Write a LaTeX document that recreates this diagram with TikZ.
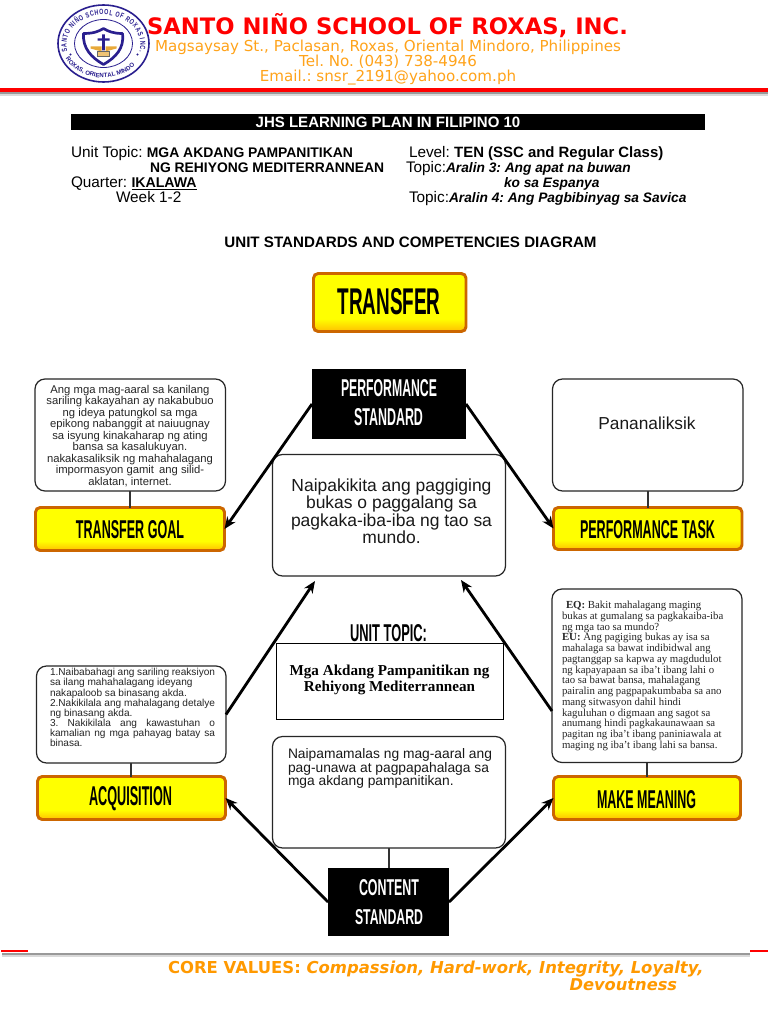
\documentclass[tikz,border=0pt]{standalone}
\usepackage{fontspec}
\usepackage{graphicx}
\setmainfont{Liberation Sans}
\newfontfamily\dvfont{DejaVu Sans}
\newfontfamily\serfont{Liberation Serif}
\newfontfamily\logofont[FakeStretch=0.72]{Liberation Sans}
\usetikzlibrary{arrows.meta,decorations.text,shadows}
\definecolor{ygold}{HTML}{FFC000}
\definecolor{orborder}{HTML}{CC6600}
\definecolor{hdorange}{HTML}{FFA31A}
\definecolor{coreorange}{HTML}{FF9900}
\definecolor{navy}{HTML}{2A1F8F}
\definecolor{gold}{HTML}{E8A93A}
\pgfdeclareverticalshading{ybar}{100bp}{color(0bp)=(ygold);color(25bp)=(ygold);color(36bp)=(yellow);color(100bp)=(yellow)}
\newcommand{\rb}[3]{\resizebox{\dimexpr #1pt*3/4\relax}{\dimexpr #2pt*3/4\relax}{\bfseries #3}}
\frenchspacing
\tikzset{
  abox/.style={inner sep=0pt,outer sep=0pt},
  whitebox/.style={abox,draw=black!85,line width=0.9pt,rounded corners=7.5pt,fill=white},
  yellowbox/.style={abox,draw=orborder,line width=2.2pt,rounded corners=3.5pt,shading=ybar},
  blackbox/.style={abox,fill=black},
  plainbox/.style={abox,draw=black,line width=0.7pt,fill=white},
  txt/.style={inner sep=0pt,outer sep=0pt},
  link/.style={draw=black!80,line width=1.3pt},
  bigarrow/.style={draw=black,line width=2.1pt,-{Stealth[length=9pt,width=7.5pt]}},
  redline/.style={draw=red,line width=3pt},
  shadowdark/.style={draw=black!40,line width=1.5pt},
  shadowlight/.style={draw=black!15,line width=1.5pt},
}
\newcommand{\bx}[7]{\node[#1,minimum width={(#5-#3)*0.75pt},minimum height={(#6-#4)*0.75pt}] (#2) at ({(#3+#5)/2},{(#4+#6)/2}) {#7};}
\begin{document}
\begin{tikzpicture}[x=0.75pt,y=-0.75pt]
\useasboundingbox (0,0) rectangle (768,1024);
\fill[white] (0,0) rectangle (768,1024);

% header rules
\draw[shadowlight] (0,95.5) -- (768,95.5);
\draw[shadowdark] (0,93) -- (768,93);
\draw[redline] (0,90) -- (768,90);

% logo
\begin{scope}[shift={(103.5,43.5)},x=0.75pt,y=0.75pt]
  \fill[white] (0,0) ellipse [x radius=46,y radius=39];
  \draw[navy,line width=1.2pt] (0,0) ellipse [x radius=45.5,y radius=38.5];
  \draw[navy,line width=0.6pt] (0,0) ellipse [x radius=29,y radius=24];
  \path[postaction={decorate,decoration={text along path,text align={fit to path},
     text={|\logofont\fontsize{5.6}{6}\selectfont\bfseries\color{navy}|SANTO NIÑO SCHOOL OF ROXAS INC.}}}]
     (-36,-8) arc [start angle=193,end angle=-13,x radius=36.9,y radius=30];
  \path[postaction={decorate,decoration={text along path,text align=center,
     text={|\fontsize{4.6}{5}\selectfont\bfseries\color{navy}|ROXAS, ORIENTAL MINDORO}}}]
     (-33,-21) arc [start angle=218,end angle=322,x radius=41.5,y radius=34];
  \fill[navy] (-33,-11) circle (1.2) (34,-11) circle (1.2);
  % shield
  \draw[navy,line width=2pt,fill=white,line join=round] (-20,10) .. controls (-10,10) and (-5,12) .. (0,15) .. controls (5,12) and (10,10) .. (19,10) .. controls (21,-5) and (12,-14) .. (0,-21) .. controls (-12,-14) and (-21,-5) .. (-20,10) -- cycle;
  \fill[gold] (-13,-3) -- (-2,-3) -- (-2,-8) -- (-13,-5) -- cycle;
  \fill[gold] (13,-3) -- (2,-3) -- (2,-8) -- (13,-5) -- cycle;
  \fill[navy] (-1.3,9) rectangle (1.3,-7) (-6,5) rectangle (6,2.8);
  \draw[black!60,fill=gold!70!white,line width=0.5pt] (-6,-8) rectangle (6,-13);
\end{scope}

% header text
\node[txt,text=red] (title) at (387.5,25.5) {\dvfont\bfseries\fontsize{17}{20}\selectfont SANTO NIÑO SCHOOL OF ROXAS, INC.};
\node[txt,text=hdorange] (addr) at (388,47) {\dvfont\fontsize{11.33}{13}\selectfont Magsaysay St., Paclasan, Roxas, Oriental Mindoro, Philippines};
\node[txt,text=hdorange] (tel) at (388,62) {\dvfont\fontsize{11.33}{13}\selectfont Tel. No. (043) 738-4946};
\node[txt,text=hdorange] (mail) at (388,78) {\dvfont\fontsize{11.33}{13}\selectfont Email.: snsr\_2191@yahoo.com.ph};

\bx{blackbox}{bar}{71}{114}{705}{130}{}
\node[txt,text=white] (bartext) at (388,122) {\bfseries\fontsize{11.27}{12}\selectfont JHS LEARNING PLAN IN FILIPINO 10};

\node[txt,anchor=base west] (ut) at (71,157) {\fontsize{11.5}{12}\selectfont Unit Topic: \bfseries\fontsize{10.45}{12}\selectfont MGA AKDANG PAMPANITIKAN};
\node[txt,anchor=base west] (ng) at (150,172.5) {\bfseries\fontsize{10.4}{12}\selectfont NG REHIYONG MEDITERRANNEAN};
\node[txt,anchor=base west] (qu) at (71,187.5) {\fontsize{11.5}{12}\selectfont Quarter: \bfseries\fontsize{10.6}{12}\selectfont\underline{IKALAWA}};
\node[txt,anchor=base west] (wk) at (116,202.5) {\fontsize{11.5}{12}\selectfont Week 1-2};
\node[txt,anchor=base west] (lv) at (409,157) {\fontsize{11.5}{12}\selectfont Level: \bfseries\fontsize{11.2}{12}\selectfont TEN (SSC and Regular Class)};
\node[txt,anchor=base west] (t3) at (406,172.5) {\fontsize{11.5}{12}\selectfont Topic:\bfseries\itshape\fontsize{10.3}{12}\selectfont Aralin 3: Ang apat na buwan};
\node[txt,anchor=base west] (ko) at (504,187.5) {\bfseries\itshape\fontsize{10.3}{12}\selectfont ko sa Espanya};
\node[txt,anchor=base west] (t4) at (409,202.5) {\fontsize{11.5}{12}\selectfont Topic:\bfseries\itshape\fontsize{10.3}{12}\selectfont Aralin 4: Ang Pagbibinyag sa Savica};
\node[txt] (usc) at (410.5,242.5) {\bfseries\fontsize{11.35}{13}\selectfont UNIT STANDARDS AND COMPETENCIES DIAGRAM};

% boxes
\bx{yellowbox}{transfer}{313.5}{273.5}{466}{331.5}{}
\bx{blackbox}{ps}{312}{369}{466}{439}{}
\bx{whitebox}{central}{272.5}{454.5}{505.5}{576}{}
\bx{whitebox}{lw}{35}{379}{225.5}{491}{}
\bx{yellowbox}{goal}{35.5}{507.5}{224.5}{550.5}{}
\bx{whitebox}{rw}{552.5}{379}{743}{491}{}
\bx{yellowbox}{task}{553.5}{507.5}{742}{549.5}{}
\bx{whitebox}{aw}{36.5}{666}{226}{763}{}
\bx{yellowbox}{acq}{37.5}{776.5}{225.5}{819.5}{}
\bx{whitebox}{mw}{552}{589}{742}{762.5}{}
\bx{yellowbox}{mm}{553.5}{776.5}{740.5}{819.5}{}
\bx{plainbox}{ub}{276}{643}{503}{719.5}{}
\bx{whitebox}{lc}{272.5}{736.5}{505.5}{848}{}
\bx{blackbox}{cs}{328}{868}{449}{936}{}

% connectors
\draw[link] (lw.south) -- (lw.south |- goal.north);
\draw[link] (rw.south) -- (rw.south |- task.north);
\draw[link] (aw.south) -- (aw.south |- acq.north);
\draw[link] (mw.south) -- (mw.south |- mm.north);
\draw[link] (lc.south) -- (lc.south |- cs.north);
\coordinate (cl) at (315,581);
\coordinate (cr) at (461,580);
\coordinate (mwa) at (552,711);
\draw[bigarrow] (ps.west) -- (goal.east);
\draw[bigarrow] (ps.east) -- (task.west);
\draw[bigarrow] (aw.east) -- (cl);
\draw[bigarrow] (mwa) -- (cr);
\draw[bigarrow] (cs.west) -- (acq.east);
\draw[bigarrow] (cs.east) -- (mm.west);

% box labels
\node[txt] (l1) at (389,302) {\rb{103}{26}{TRANSFER}};
\node[txt,text=white] (l2) at (389,388.5) {\rb{96}{17}{PERFORMANCE}};
\node[txt,text=white] (l3) at (388.5,417.5) {\rb{69}{17}{STANDARD}};
\node[txt] (l4) at (130,530) {\rb{108}{18}{TRANSFER GOAL}};
\node[txt] (l5) at (647.5,530) {\rb{135}{18}{PERFORMANCE TASK}};
\node[txt] (l6) at (130.5,799) {\rb{83}{19}{ACQUISITION}};
\node[txt] (l7) at (646.5,799.5) {\rb{99}{18}{MAKE MEANING}};
\node[txt] (l8) at (388.5,633.5) {\rb{77}{17}{UNIT TOPIC:}};
\node[txt,text=white] (l9) at (389,888) {\rb{60}{16}{CONTENT}};
\node[txt,text=white] (l10) at (389,917.5) {\rb{68}{15}{STANDARD}};

% box texts
\node[txt,anchor=north,align=center,font={\fontsize{8.45}{8.63}\selectfont},text=black!85] (ltext) at (130,385)
 {Ang mga mag-aaral sa kanilang\\sariling kakayahan ay nakabubuo\\ng ideya patungkol sa mga\\epikong nabanggit at naiuugnay\\sa isyung kinakaharap ng ating\\bansa sa kasalukuyan.\\nakakasaliksik ng mahahalagang\\impormasyon gamit\, ang silid-\\aklatan, internet.};
\node[txt,text=black!90] (rtext) at (647,423) {\fontsize{13}{15}\selectfont Pananaliksik};
\node[txt,anchor=north,align=center,font={\fontsize{13.1}{13.2}\selectfont},text=black!90] (ctext) at (391.5,478.5)
 {Naipakikita ang paggiging\\bukas o paggalang sa\\pagkaka-iba-iba ng tao sa\\mundo.};
\node[txt,anchor=north west,align=left,font={\fontsize{7.57}{7.6}\selectfont},text=black!85] (atext) at (50,668.5)
 {\makebox[123.8pt][s]{1.Naibabahagi ang sariling reaksiyon}\\sa ilang mahahalagang ideyang\\nakapaloob sa binasang akda.\\\makebox[123.8pt][s]{2.Nakikilala ang mahalagang detalye}\\ng binasang akda.\\\makebox[123.8pt][s]{3. Nakikilala ang kawastuhan o}\\\makebox[123.8pt][s]{kamalian ng mga pahayag batay sa}\\binasa.};
\node[txt,anchor=north,align=center,font={\serfont\bfseries\fontsize{11.35}{12}\selectfont}] (utext) at (389.5,664.5)
 {Mga Akdang Pampanitikan ng\\Rehiyong Mediterrannean};
\node[txt,anchor=north west,align=left,font={\fontsize{10.35}{10.3}\selectfont},text=black!90] (ctext2) at (288,748.5)
 {Naipamamalas ng mag-aaral ang\\pag-unawa at pagpapahalaga sa\\mga akdang pampanitikan.};
\node[txt,anchor=north west,align=left,font={\serfont\fontsize{8.1}{8.07}\selectfont},text=black!85] (mtext) at (562,601)
 {\hspace*{3pt}\textbf{EQ:} Bakit mahalagang maging\\bukas at gumalang sa pagkakaiba-iba\\ng mga tao sa mundo?\\\textbf{EU:} Ang pagiging bukas ay isa sa\\mahalaga sa bawat indibidwal ang\\pagtanggap sa kapwa ay magdudulot\\ng kapayapaan sa iba’t ibang lahi o\\tao sa bawat bansa, mahalagang\\pairalin ang pagpapakumbaba sa ano\\mang sitwasyon dahil hindi\\kaguluhan o digmaan ang sagot sa\\anumang hindi pagkakaunawaan sa\\pagitan ng iba’t ibang paniniawala at\\maging ng iba’t ibang lahi sa bansa.};

% footer
\draw[shadowlight] (2,955.5) -- (750,955.5);
\draw[shadowdark] (2,954) -- (750,954);
\draw[redline,line width=2.2pt] (1,951) -- (28,951);
\draw[redline,line width=2.2pt] (750,951) -- (768,951);
\node[txt,anchor=base west,text=coreorange] (core) at (168,973) {\dvfont\bfseries\fontsize{12.33}{14}\selectfont CORE VALUES: \itshape Compassion, Hard-work, Integrity, Loyalty,};
\node[txt,anchor=base west,text=coreorange] (dev) at (569.5,990) {\dvfont\bfseries\itshape\fontsize{12.2}{14}\selectfont Devoutness};
\end{tikzpicture}
\end{document}
